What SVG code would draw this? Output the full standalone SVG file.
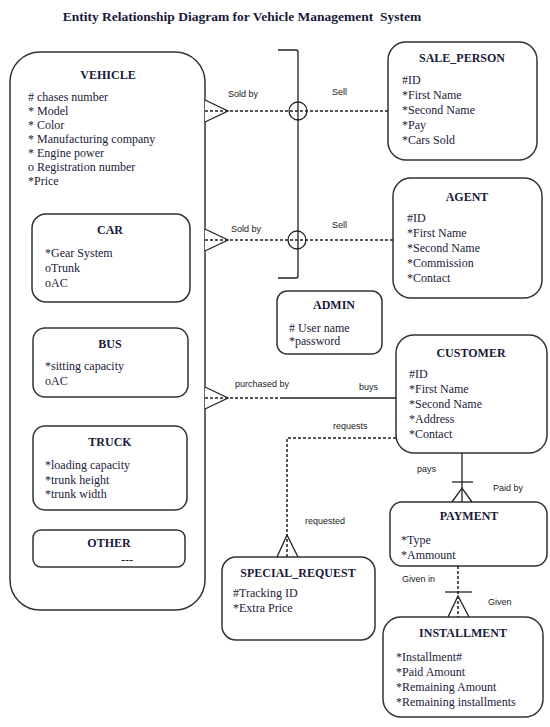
<svg xmlns="http://www.w3.org/2000/svg" width="550" height="727" viewBox="0 0 550 727">
<style>
.box{fill:#fff;stroke:#333;stroke-width:1.5}
.ttl{font-family:"Liberation Serif",serif;font-weight:bold;font-size:12px;fill:#1a1a3a;text-anchor:middle}
.att{font-family:"Liberation Serif",serif;font-size:12px;fill:#1a1a3a}
.lbl{font-family:"Liberation Sans",sans-serif;font-size:9px;fill:#222}
.ln{fill:none;stroke:#222;stroke-width:1.3}
.dash{fill:none;stroke:#222;stroke-width:1.5;stroke-dasharray:3,2}
.tri{fill:#fff;stroke:#222;stroke-width:1.3}
</style>
<rect width="550" height="727" fill="#fff"/>
<text x="242" y="21" font-family="Liberation Serif,serif" font-weight="bold" font-size="13.5" fill="#1a1a3a" text-anchor="middle" xml:space="preserve">Entity Relationship Diagram for Vehicle Management  System</text>

<g id="vehicle">
<rect class="box" x="10" y="52" width="195" height="558" rx="30"/>
<text class="ttl" x="108" y="79" font-size="14.5">VEHICLE</text>
<text class="att" x="28" y="101"># chases number</text>
<text class="att" x="28" y="115">* Model</text>
<text class="att" x="28" y="129">* Color</text>
<text class="att" x="28" y="143">* Manufacturing company</text>
<text class="att" x="28" y="157">* Engine power</text>
<text class="att" x="28" y="171">o Registration number</text>
<text class="att" x="28" y="185">*Price</text>
</g>
<g id="car">
<rect class="box" x="32" y="214" width="158" height="88" rx="14"/>
<text class="ttl" x="110" y="234">CAR</text>
<text class="att" x="45" y="257">*Gear System</text>
<text class="att" x="45" y="272">oTrunk</text>
<text class="att" x="45" y="287">oAC</text>
</g>
<g id="bus">
<rect class="box" x="33" y="328" width="155" height="69" rx="12"/>
<text class="ttl" x="110" y="348">BUS</text>
<text class="att" x="45" y="370">*sitting capacity</text>
<text class="att" x="45" y="385">oAC</text>
</g>
<g id="truck">
<rect class="box" x="33" y="426" width="154" height="84" rx="12"/>
<text class="ttl" x="110" y="446">TRUCK</text>
<text class="att" x="45" y="469">*loading capacity</text>
<text class="att" x="45" y="484">*trunk height</text>
<text class="att" x="45" y="498">*trunk width</text>
</g>
<g id="other">
<rect class="box" x="33" y="530" width="152" height="37" rx="8"/>
<text class="ttl" x="109" y="547">OTHER</text>
<text class="att" x="121" y="564">---</text>
</g>
<g id="sale_person">
<rect class="box" x="388" y="42" width="149" height="118" rx="18"/>
<text class="ttl" x="462" y="62">SALE_PERSON</text>
<text class="att" x="402" y="84">#ID</text>
<text class="att" x="402" y="99">*First Name</text>
<text class="att" x="402" y="114">*Second Name</text>
<text class="att" x="402" y="129">*Pay</text>
<text class="att" x="402" y="144">*Cars Sold</text>
</g>
<g id="agent">
<rect class="box" x="393" y="178" width="149" height="120" rx="18"/>
<text class="ttl" x="467" y="201">AGENT</text>
<text class="att" x="407" y="222">#ID</text>
<text class="att" x="407" y="237">*First Name</text>
<text class="att" x="407" y="252">*Second Name</text>
<text class="att" x="407" y="267">*Commission</text>
<text class="att" x="407" y="282">*Contact</text>
</g>
<g id="admin">
<rect class="box" x="277" y="291" width="105" height="63" rx="10"/>
<text class="ttl" x="334" y="309">ADMIN</text>
<text class="att" x="289" y="332"># User name</text>
<text class="att" x="289" y="345">*password</text>
</g>
<g id="customer">
<rect class="box" x="396" y="335" width="151" height="118" rx="18"/>
<text class="ttl" x="471" y="357">CUSTOMER</text>
<text class="att" x="409" y="378">#ID</text>
<text class="att" x="409" y="393">*First Name</text>
<text class="att" x="409" y="408">*Second Name</text>
<text class="att" x="409" y="423">*Address</text>
<text class="att" x="409" y="438">*Contact</text>
</g>
<g id="payment">
<rect class="box" x="390" y="502" width="157" height="64" rx="12"/>
<text class="ttl" x="469" y="520">PAYMENT</text>
<text class="att" x="401" y="544">*Type</text>
<text class="att" x="401" y="559">*Ammount</text>
</g>
<g id="special_request">
<rect class="box" x="222" y="557" width="153" height="83" rx="14"/>
<text class="ttl" x="298" y="577">SPECIAL_REQUEST</text>
<text class="att" x="233" y="597">#Tracking ID</text>
<text class="att" x="233" y="612">*Extra Price</text>
</g>
<g id="installment">
<rect class="box" x="383" y="617" width="160" height="100" rx="18"/>
<text class="ttl" x="463" y="637">INSTALLMENT</text>
<text class="att" x="396" y="661">*Installment#</text>
<text class="att" x="396" y="676">*Paid Amount</text>
<text class="att" x="396" y="691">*Remaining Amount</text>
<text class="att" x="396" y="706">*Remaining installments</text>
</g>

<g id="connectors">
<path class="ln" d="M278,50 H296 Q298,50 298,52 V276 Q298,278 296,278 H278"/>
<path class="tri" d="M205,100 L228,111 L205,122"/>
<line class="dash" x1="205" y1="111" x2="388" y2="111"/>
<circle class="ln" cx="298" cy="111" r="9"/>
<path class="tri" d="M205,229 L228,240 L205,251"/>
<line class="dash" x1="205" y1="240" x2="393" y2="240"/>
<circle class="ln" cx="297" cy="240" r="9"/>
<path class="tri" d="M205,387 L228,398 L205,409"/>
<line class="dash" x1="205" y1="398" x2="283" y2="398"/>
<line class="ln" x1="283" y1="398" x2="396" y2="398"/>
<path class="dash" d="M396,438 H287 V557"/>
<path class="ln" d="M277,557 L287,535 L298,557"/>
<line class="ln" x1="462" y1="453" x2="462" y2="502"/>
<line class="ln" x1="452" y1="482" x2="473" y2="482"/>
<path class="ln" d="M452,502 L462,488 L472,502"/>
<line class="dash" x1="458" y1="566" x2="458" y2="617"/>
<line class="ln" x1="445" y1="592" x2="472" y2="592"/>
<path class="ln" d="M448,617 L458,596 L469,617"/>
<text class="lbl" x="228" y="97">Sold by</text>
<text class="lbl" x="332" y="95">Sell</text>
<text class="lbl" x="231" y="232">Sold by</text>
<text class="lbl" x="332" y="228">Sell</text>
<text class="lbl" x="235" y="387">purchased by</text>
<text class="lbl" x="359" y="390">buys</text>
<text class="lbl" x="333" y="429">requests</text>
<text class="lbl" x="305" y="524">requested</text>
<text class="lbl" x="417" y="472">pays</text>
<text class="lbl" x="493" y="491">Paid by</text>
<text class="lbl" x="402" y="582">Given in</text>
<text class="lbl" x="488" y="605">Given</text>
</g>
</svg>
